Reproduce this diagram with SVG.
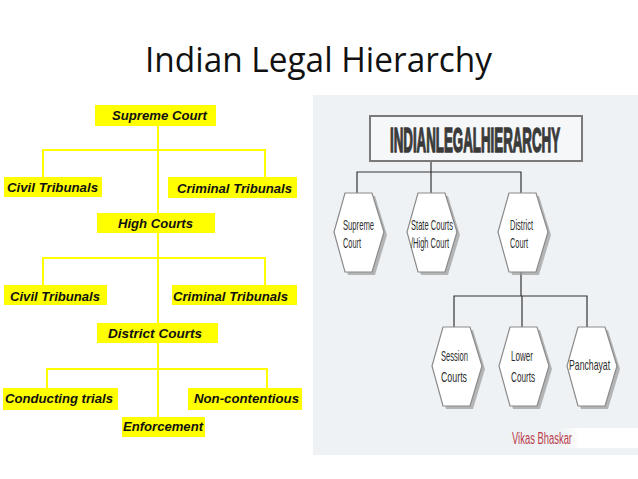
<svg xmlns="http://www.w3.org/2000/svg" xmlns:xlink="http://www.w3.org/1999/xlink" width="638" height="479" viewBox="0 0 638 479">
<style>
.ybox{fill:#ffff00;}
.ylab{font-family:"Liberation Sans",Arial,sans-serif;font-weight:bold;font-style:italic;font-size:13px;fill:#111;}
.yline{stroke:#ffff00;stroke-width:2;fill:none;}
.hex{fill:#ffffff;stroke:#8a8a8a;stroke-width:1.2;}
.hexsh{fill:#9a9a9a;opacity:0.7;}
.hlab{font-family:"Liberation Sans",sans-serif;font-size:15px;fill:#2e2e2e;}
.dline{stroke:#333;stroke-width:1.2;fill:none;}
</style>
<defs>
<polygon id="hexshape" points="11,0 38,0 50,39 38,79 11,79 0,39"/>
<linearGradient id="wfade" x1="0" y1="0" x2="1" y2="0">
<stop offset="0" stop-color="#ffffff" stop-opacity="0"/>
<stop offset="0.25" stop-color="#ffffff" stop-opacity="1"/>
<stop offset="1" stop-color="#ffffff" stop-opacity="1"/>
</linearGradient>
</defs>
<rect width="638" height="479" fill="#ffffff"/>
<text x="145" y="72" font-family="'Open Sans','Liberation Sans',sans-serif" font-size="34" fill="#111" textLength="347" lengthAdjust="spacingAndGlyphs">Indian Legal Hierarchy</text>

<g id="left-connectors">
<line class="yline" x1="158" y1="126" x2="158" y2="417"/>
<polyline class="yline" points="43,177 43,150 265,150 265,177"/>
<polyline class="yline" points="43,285 43,258 265,258 265,285"/>
<polyline class="yline" points="47,388 47,369 267,369 267,388"/>
</g>

<g id="l-supreme"><rect class="ybox" x="95" y="105" width="121" height="21"/><text class="ylab" x="112" y="120" textLength="95" lengthAdjust="spacingAndGlyphs">Supreme Court</text></g>
<g id="l-civil1"><rect class="ybox" x="4" y="177" width="98" height="20"/><text class="ylab" x="7" y="192" textLength="91" lengthAdjust="spacingAndGlyphs">Civil Tribunals</text></g>
<g id="l-criminal1"><rect class="ybox" x="168" y="177" width="129" height="21"/><text class="ylab" x="177" y="193" textLength="115" lengthAdjust="spacingAndGlyphs">Criminal Tribunals</text></g>
<g id="l-high"><rect class="ybox" x="97" y="213" width="118" height="20"/><text class="ylab" x="118" y="228" textLength="75" lengthAdjust="spacingAndGlyphs">High Courts</text></g>
<g id="l-civil2"><rect class="ybox" x="4" y="285" width="103" height="20"/><text class="ylab" x="10" y="301" textLength="90" lengthAdjust="spacingAndGlyphs">Civil Tribunals</text></g>
<g id="l-criminal2"><rect class="ybox" x="172" y="285" width="125" height="20"/><text class="ylab" x="173" y="301" textLength="115" lengthAdjust="spacingAndGlyphs">Criminal Tribunals</text></g>
<g id="l-district"><rect class="ybox" x="97" y="323" width="121" height="20"/><text class="ylab" x="108" y="338" textLength="94" lengthAdjust="spacingAndGlyphs">District Courts</text></g>
<g id="l-conducting"><rect class="ybox" x="3" y="388" width="115" height="22"/><text class="ylab" x="5" y="403" textLength="108" lengthAdjust="spacingAndGlyphs">Conducting trials</text></g>
<g id="l-noncontentious"><rect class="ybox" x="188" y="388" width="114" height="22"/><text class="ylab" x="194" y="403" textLength="105" lengthAdjust="spacingAndGlyphs">Non-contentious</text></g>
<g id="l-enforcement"><rect class="ybox" x="122" y="417" width="83" height="20"/><text class="ylab" x="123" y="431" textLength="80" lengthAdjust="spacingAndGlyphs">Enforcement</text></g>

<rect x="313" y="95" width="325" height="360" fill="#eff2f4"/>
<rect x="560" y="428" width="78" height="20" fill="url(#wfade)"/>

<g id="right-connectors">
<line class="dline" x1="431" y1="161" x2="431" y2="193"/>
<polyline class="dline" points="357,193 357,172 521,172 521,193"/>
<line class="dline" x1="521" y1="272" x2="521" y2="296"/>
<polyline class="dline" points="454,327 454,296 587,296 587,327"/>
<line class="dline" x1="522" y1="296" x2="522" y2="327"/>
</g>

<g id="r-title">
<rect x="370" y="116" width="212" height="45" fill="#f5f7f8" stroke="#7a7a7a" stroke-width="2"/>
<text transform="translate(390,152) scale(0.37,1)" x="0" y="0" font-family="'Liberation Sans',sans-serif" font-weight="bold" font-size="36" fill="#3a3a3a" stroke="#3a3a3a" stroke-width="1.6">INDIANLEGALHIERARCHY</text>
</g>

<g id="r-supreme" transform="translate(334,193)">
<use xlink:href="#hexshape" class="hexsh" x="3" y="3"/>
<use xlink:href="#hexshape" class="hex"/>
<text class="hlab" x="9" y="37" textLength="31" lengthAdjust="spacingAndGlyphs">Supreme</text>
<text class="hlab" x="9" y="55" textLength="18" lengthAdjust="spacingAndGlyphs">Court</text>
</g>
<g id="r-state" transform="translate(407,193)">
<use xlink:href="#hexshape" class="hexsh" x="3" y="3"/>
<use xlink:href="#hexshape" class="hex"/>
<text class="hlab" x="4" y="37" textLength="42" lengthAdjust="spacingAndGlyphs">State Courts</text>
<text class="hlab" x="4" y="55" textLength="38" lengthAdjust="spacingAndGlyphs">/High Court</text>
</g>
<g id="r-district" transform="translate(498,193)">
<use xlink:href="#hexshape" class="hexsh" x="3" y="3"/>
<use xlink:href="#hexshape" class="hex"/>
<text class="hlab" x="12" y="37" textLength="23" lengthAdjust="spacingAndGlyphs">District</text>
<text class="hlab" x="12" y="55" textLength="18" lengthAdjust="spacingAndGlyphs">Court</text>
</g>
<g id="r-session" transform="translate(432,327)">
<use xlink:href="#hexshape" class="hexsh" x="3" y="3"/>
<use xlink:href="#hexshape" class="hex"/>
<text class="hlab" x="9" y="34" textLength="27" lengthAdjust="spacingAndGlyphs">Session</text>
<text class="hlab" x="9" y="55" textLength="26" lengthAdjust="spacingAndGlyphs">Courts</text>
</g>
<g id="r-lower" transform="translate(499,327)">
<use xlink:href="#hexshape" class="hexsh" x="3" y="3"/>
<use xlink:href="#hexshape" class="hex"/>
<text class="hlab" x="12" y="34" textLength="22" lengthAdjust="spacingAndGlyphs">Lower</text>
<text class="hlab" x="12" y="55" textLength="24" lengthAdjust="spacingAndGlyphs">Courts</text>
</g>
<g id="r-panchayat" transform="translate(567,327)">
<use xlink:href="#hexshape" class="hexsh" x="3" y="3"/>
<use xlink:href="#hexshape" class="hex"/>
<text class="hlab" transform="translate(2,43) scale(0.58,1)" x="0" y="0">Panchayat</text>
</g>

<text x="512" y="444" font-family="'Liberation Sans',sans-serif" font-size="16" fill="#b8404e" textLength="60" lengthAdjust="spacingAndGlyphs">Vikas Bhaskar</text>
</svg>
